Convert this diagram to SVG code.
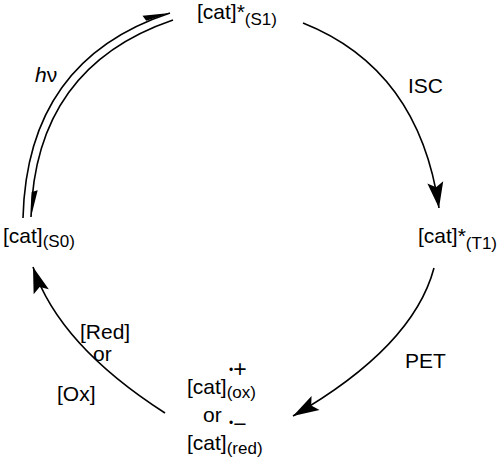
<svg xmlns="http://www.w3.org/2000/svg" width="502" height="464" viewBox="0 0 502 464">
<style>
text{font-family:"Liberation Sans",Arial,sans-serif;fill:#000;font-size:21px}
.sub{font-size:17px}
.dot{font-size:12px}
.sgn{font-size:23px}
.ln{fill:none;stroke:#000;stroke-width:1.6}
</style>
<defs>
<marker id="arr" markerUnits="userSpaceOnUse" viewBox="-27 -9 29 18" refX="0" refY="0" markerWidth="29" markerHeight="18" orient="auto">
<path d="M0,0 L-26,-8 L-21,0 L-26,8 Z" fill="#000"/>
</marker>
<marker id="harp" markerUnits="userSpaceOnUse" viewBox="-30 -9 32 18" refX="0" refY="0" markerWidth="32" markerHeight="18" orient="auto">
<path d="M0,0 L-27,-6 L-25,0 Z" fill="#000"/>
</marker>
</defs>
<rect width="502" height="464" fill="#fff"/>
<g id="connectors">
<path class="ln" d="M23,218 Q27,60 170,13" marker-end="url(#harp)"/>
<path class="ln" d="M173,20 Q35,67 31,217" marker-end="url(#harp)"/>
<path class="ln" d="M303,23 Q419,69 439,208" marker-end="url(#arr)"/>
<path class="ln" d="M434,268 Q413,347 293,416" marker-end="url(#arr)"/>
<path class="ln" d="M165,413 Q59,345 33,267" marker-end="url(#arr)"/>
</g>
<g id="label-hv"><text x="35" y="82"><tspan font-style="italic">h</tspan>ν</text></g>
<g id="label-isc"><text x="408" y="93">ISC</text></g>
<g id="label-pet"><text x="405" y="368">PET</text></g>
<g id="label-redox"><text x="80" y="339">[Red]</text><text x="93" y="361">or</text><text x="57" y="401">[Ox]</text></g>
<g id="node-s1"><text x="197" y="19">[cat]*<tspan class="sub" dy="6">(S1)</tspan></text></g>
<g id="node-t1"><text x="418" y="243">[cat]*<tspan class="sub" dy="6">(T1)</tspan></text></g>
<g id="node-s0"><text x="3" y="243">[cat]<tspan class="sub" dy="4">(S0)</tspan></text></g>
<g id="node-ion">
<text x="187" y="394">[cat]<tspan class="sub" dy="4">(ox)</tspan></text>
<text x="229" y="374"><tspan class="dot">•</tspan><tspan class="sgn" dy="3">+</tspan></text>
<text x="203" y="422">or</text>
<text x="187" y="450">[cat]<tspan class="sub" dy="4">(red)</tspan></text>
<text x="229" y="427"><tspan class="dot">•</tspan><tspan class="sgn" dy="5">−</tspan></text>
</g>
</svg>
